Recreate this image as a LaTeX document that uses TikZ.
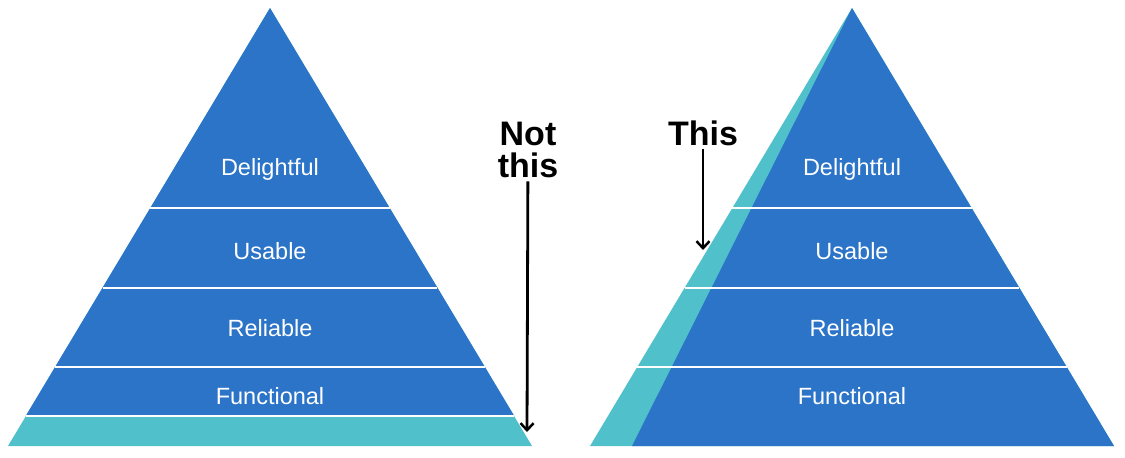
\documentclass[tikz,border=0pt]{standalone}
\usepackage{fontspec}
\setmainfont{Liberation Sans}
\usetikzlibrary{arrows.meta}
\definecolor{pyrblue}{HTML}{2B74C8}
\definecolor{pyrteal}{HTML}{50C0CB}
\begin{document}
\begin{tikzpicture}[x=1pt,y=-1pt,
			layer/.style={text=white, font=\fontsize{23.5}{25}\selectfont},
			callout/.style={font=\bfseries\fontsize{34}{32}\selectfont, align=center},
			sep/.style={white, line width=2pt},
			arrow/.style={-{Straight Barb[length=7pt,width=13pt,line width=2.5pt]}, line width=2.8pt}
			]
			\useasboundingbox (0,0) rectangle (1125,458);
			
			% Left pyramid
			\coordinate (La) at (270,8);
			\fill[pyrteal] (La) -- (8,446) -- (532,446) -- cycle;
			\fill[pyrblue] (La) -- (25.7,416) -- (514.3,416) -- cycle;
			\foreach \y in {208,288,367,416} {
				\pgfmathsetmacro{\hw}{0.598*(\y-8)}
				\draw[sep] (270-\hw,\y) -- (270+\hw,\y);
			}
			\node[layer] (ldel) at (270,169) {Delightful};
			\node[layer] (lusa) at (270,251) {Usable};
			\node[layer] (lrel) at (270,328) {Reliable};
			\node[layer] (lfun) at (270,396) {Functional};
			
			% Right pyramid
			\coordinate (Ra) at (852,8);
			\fill[pyrteal] (Ra) -- (590,446) -- (1114,446) -- cycle;
			\fill[pyrblue] (Ra) -- (632,446) -- (1114,446) -- cycle;
			\foreach \y in {208,288,367} {
				\pgfmathsetmacro{\hw}{0.598*(\y-8)}
				\draw[sep] (852-\hw,\y) -- (852+\hw,\y);
			}
			\node[layer] (rdel) at (852,169) {Delightful};
			\node[layer] (rusa) at (852,251) {Usable};
			\node[layer] (rrel) at (852,328) {Reliable};
			\node[layer] (rfun) at (852,396) {Functional};
			
			% Callouts
			\node[callout] (nothis) at (528,150) {Not\\this};
			\coordinate (nothisend) at (527,432);
			\draw[arrow] (nothis) -- (nothisend);
			\node[callout] (this) at (703,133) {This};
			\coordinate (thisend) at (703,250);
			\draw[arrow] (this) -- (thisend);
		\end{tikzpicture}
\end{document}
